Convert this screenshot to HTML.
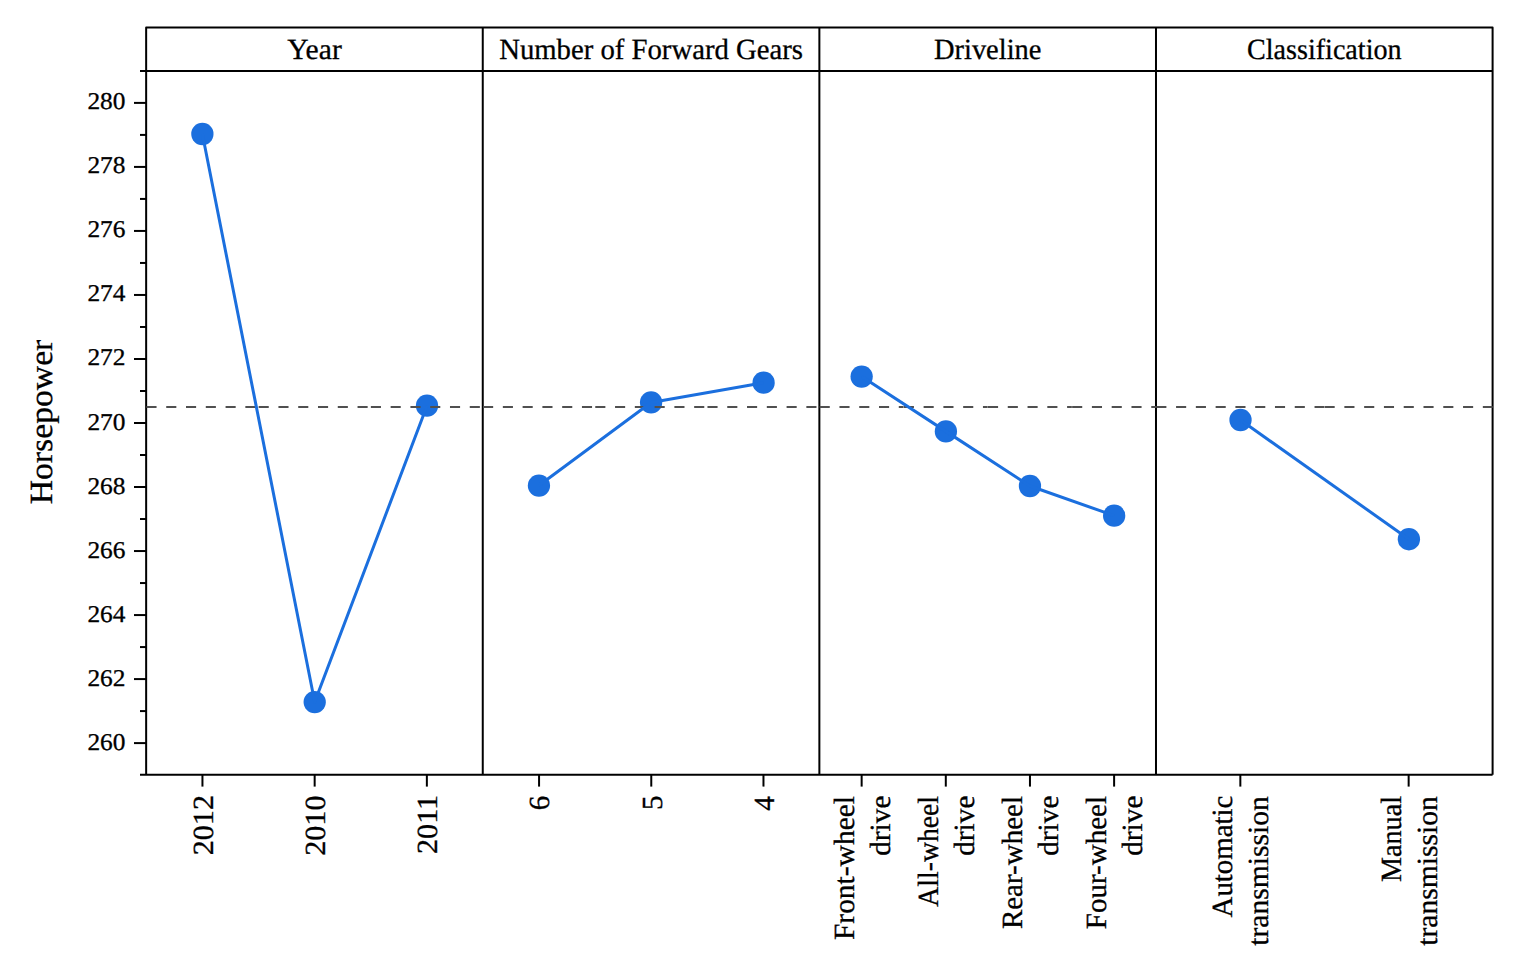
<!DOCTYPE html><html><head><meta charset="utf-8"><style>html,body{margin:0;padding:0;background:#fff;overflow:hidden}svg{display:block}text{font-family:"Liberation Serif",serif;fill:#000;stroke:#000;stroke-width:0.3px;text-rendering:geometricPrecision}</style></head><body>
<svg width="1536" height="975" viewBox="0 0 1536 975">
<g stroke="#000" stroke-width="2" fill="none" stroke-linecap="butt">
<path d="M146.15 774.7 V27.5 H1492.6 V774.7" stroke-linejoin="round"/>
<path d="M140 70.9 H1492.6"/>
<path d="M140 774.7 H1492.6"/>
<path d="M482.76 27.5 V774.7"/>
<path d="M819.37 27.5 V774.7"/>
<path d="M1155.99 27.5 V774.7"/>
<path d="M134 743.10 H146.15"/>
<path d="M140 711.09 H146.15"/>
<path d="M134 679.08 H146.15"/>
<path d="M140 647.07 H146.15"/>
<path d="M134 615.06 H146.15"/>
<path d="M140 583.05 H146.15"/>
<path d="M134 551.04 H146.15"/>
<path d="M140 519.03 H146.15"/>
<path d="M134 487.02 H146.15"/>
<path d="M140 455.01 H146.15"/>
<path d="M134 423.00 H146.15"/>
<path d="M140 390.99 H146.15"/>
<path d="M134 358.98 H146.15"/>
<path d="M140 326.97 H146.15"/>
<path d="M134 294.96 H146.15"/>
<path d="M140 262.95 H146.15"/>
<path d="M134 230.94 H146.15"/>
<path d="M140 198.93 H146.15"/>
<path d="M134 166.92 H146.15"/>
<path d="M140 134.91 H146.15"/>
<path d="M134 102.90 H146.15"/>
</g>
<g stroke="#000" stroke-width="2">
<path d="M202.45 774.7 V786.6"/>
<path d="M314.66 774.7 V786.6"/>
<path d="M426.86 774.7 V786.6"/>
<path d="M539.06 774.7 V786.6"/>
<path d="M651.27 774.7 V786.6"/>
<path d="M763.47 774.7 V786.6"/>
<path d="M861.65 774.7 V786.6"/>
<path d="M945.80 774.7 V786.6"/>
<path d="M1029.96 774.7 V786.6"/>
<path d="M1114.11 774.7 V786.6"/>
<path d="M1240.34 774.7 V786.6"/>
<path d="M1408.65 774.7 V786.6"/>
</g>
<circle cx="202.38" cy="134.00" r="11.15" fill="#1B6FDE"/>
<circle cx="314.70" cy="702.05" r="11.15" fill="#1B6FDE"/>
<circle cx="427.00" cy="405.70" r="11.15" fill="#1B6FDE"/>
<circle cx="538.95" cy="485.56" r="11.15" fill="#1B6FDE"/>
<circle cx="651.08" cy="402.44" r="11.15" fill="#1B6FDE"/>
<circle cx="763.60" cy="382.67" r="11.15" fill="#1B6FDE"/>
<circle cx="861.64" cy="376.59" r="11.15" fill="#1B6FDE"/>
<circle cx="945.90" cy="431.38" r="11.15" fill="#1B6FDE"/>
<circle cx="1029.95" cy="486.00" r="11.15" fill="#1B6FDE"/>
<circle cx="1114.15" cy="515.67" r="11.15" fill="#1B6FDE"/>
<circle cx="1240.51" cy="420.00" r="11.15" fill="#1B6FDE"/>
<circle cx="1408.90" cy="539.23" r="11.15" fill="#1B6FDE"/>
<g stroke="#505050" stroke-width="1.9" stroke-dasharray="10.1 9.68" fill="none">
<path d="M146.45 406.95 H258.35"/>
<path d="M258.65 406.95 H370.56"/>
<path d="M370.86 406.95 H482.76"/>
<path d="M483.06 406.95 H594.97"/>
<path d="M595.27 406.95 H707.17"/>
<path d="M707.47 406.95 H819.37"/>
<path d="M819.67 406.95 H903.53"/>
<path d="M903.83 406.95 H987.68"/>
<path d="M987.98 406.95 H1071.83"/>
<path d="M1072.13 406.95 H1155.99"/>
<path d="M1156.29 406.95 H1324.29"/>
<path d="M1324.59 406.95 H1492.60"/>
</g>
<path d="M202.38 134.00 L314.70 702.05 L427.00 405.70" stroke="#1B6FDE" stroke-width="3" fill="none" stroke-linejoin="round"/>
<path d="M538.95 485.56 L651.08 402.44 L763.60 382.67" stroke="#1B6FDE" stroke-width="3" fill="none" stroke-linejoin="round"/>
<path d="M861.64 376.59 L945.90 431.38 L1029.95 486.00 L1114.15 515.67" stroke="#1B6FDE" stroke-width="3" fill="none" stroke-linejoin="round"/>
<path d="M1240.51 420.00 L1408.90 539.23" stroke="#1B6FDE" stroke-width="3" fill="none" stroke-linejoin="round"/>
<text transform="translate(314.46,59.3) scale(1.011,1)" text-anchor="middle" font-size="29.3">Year</text>
<text transform="translate(651.07,59.3) scale(0.98,1)" text-anchor="middle" font-size="29.3">Number of Forward Gears</text>
<text transform="translate(987.68,59.3) scale(0.971,1)" text-anchor="middle" font-size="29.3">Driveline</text>
<text transform="translate(1324.29,59.3) scale(0.959,1)" text-anchor="middle" font-size="29.3">Classification</text>
<text transform="translate(125.5,749.60) scale(1.055,1)" text-anchor="end" font-size="24.05">260</text>
<text transform="translate(125.5,685.58) scale(1.055,1)" text-anchor="end" font-size="24.05">262</text>
<text transform="translate(125.5,621.56) scale(1.055,1)" text-anchor="end" font-size="24.05">264</text>
<text transform="translate(125.5,557.54) scale(1.055,1)" text-anchor="end" font-size="24.05">266</text>
<text transform="translate(125.5,493.52) scale(1.055,1)" text-anchor="end" font-size="24.05">268</text>
<text transform="translate(125.5,429.50) scale(1.055,1)" text-anchor="end" font-size="24.05">270</text>
<text transform="translate(125.5,365.48) scale(1.055,1)" text-anchor="end" font-size="24.05">272</text>
<text transform="translate(125.5,301.46) scale(1.055,1)" text-anchor="end" font-size="24.05">274</text>
<text transform="translate(125.5,237.44) scale(1.055,1)" text-anchor="end" font-size="24.05">276</text>
<text transform="translate(125.5,173.42) scale(1.055,1)" text-anchor="end" font-size="24.05">278</text>
<text transform="translate(125.5,109.40) scale(1.055,1)" text-anchor="end" font-size="24.05">280</text>
<text transform="translate(52,422) rotate(-90) scale(1.04,1)" text-anchor="middle" font-size="32.4">Horsepower</text>
<text transform="translate(212.75,794.93) rotate(-90) scale(1.035,1)" text-anchor="end" font-size="29.2">2012</text>
<text transform="translate(324.96,795.45) rotate(-90) scale(1.035,1)" text-anchor="end" font-size="29.2">2010</text>
<text transform="translate(437.16,794.78) rotate(-90) scale(1.035,1)" text-anchor="end" font-size="29.2">2011</text>
<text transform="translate(549.36,795.73) rotate(-90) scale(1,1)" text-anchor="end" font-size="29.2">6</text>
<text transform="translate(661.57,795.46) rotate(-90) scale(1,1)" text-anchor="end" font-size="29.2">5</text>
<text transform="translate(773.77,796.14) rotate(-90) scale(1,1)" text-anchor="end" font-size="29.2">4</text>
<text transform="translate(853.75,796.01) rotate(-90) scale(1.006,1)" text-anchor="end" font-size="29.3">Front-wheel</text>
<text transform="translate(889.55,795.58) rotate(-90) scale(1.0,1)" text-anchor="end" font-size="29.3">drive</text>
<text transform="translate(937.90,796.05) rotate(-90) scale(0.944,1)" text-anchor="end" font-size="29.3">All-wheel</text>
<text transform="translate(973.70,795.58) rotate(-90) scale(1.0,1)" text-anchor="end" font-size="29.3">drive</text>
<text transform="translate(1022.06,796.02) rotate(-90) scale(0.99,1)" text-anchor="end" font-size="29.3">Rear-wheel</text>
<text transform="translate(1057.86,795.58) rotate(-90) scale(1.0,1)" text-anchor="end" font-size="29.3">drive</text>
<text transform="translate(1106.21,796.02) rotate(-90) scale(0.99,1)" text-anchor="end" font-size="29.3">Four-wheel</text>
<text transform="translate(1142.01,795.58) rotate(-90) scale(1.0,1)" text-anchor="end" font-size="29.3">drive</text>
<text transform="translate(1232.44,795.71) rotate(-90) scale(0.984,1)" text-anchor="end" font-size="29.3">Automatic</text>
<text transform="translate(1268.24,796.15) rotate(-90) scale(1.01,1)" text-anchor="end" font-size="29.3">transmission</text>
<text transform="translate(1400.75,796.04) rotate(-90) scale(0.961,1)" text-anchor="end" font-size="29.3">Manual</text>
<text transform="translate(1436.55,796.15) rotate(-90) scale(1.01,1)" text-anchor="end" font-size="29.3">transmission</text>
</svg></body></html>
